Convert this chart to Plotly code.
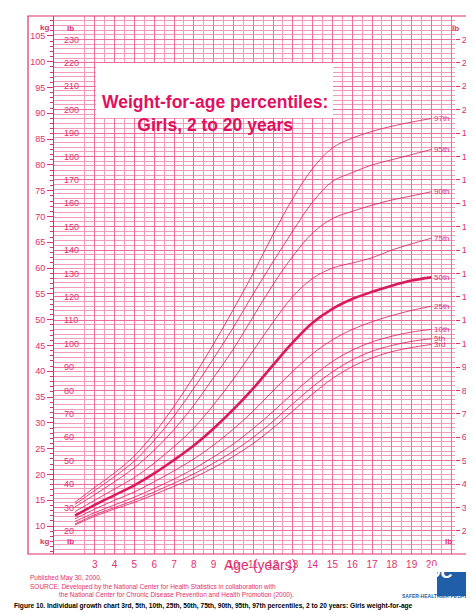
import plotly.graph_objects as go

ages = [2, 3, 4, 5, 6, 7, 8, 9, 10, 11, 12, 13, 14, 15, 16, 17, 18, 19, 20]

# weight in kg
p3 = [10.2, 11.9, 13.3, 14.6, 16.1, 17.7, 19.4, 21.3, 23.5, 26.0, 29.0, 32.3, 35.6, 38.6, 40.9, 42.6, 43.8, 44.6, 45.2]
p5 = [10.4, 12.2, 13.6, 15.0, 16.6, 18.3, 20.1, 22.2, 24.5, 27.2, 30.3, 33.7, 37.0, 39.9, 42.2, 43.9, 45.0, 45.8, 46.3]
p10 = [10.9, 12.6, 14.1, 15.6, 17.3, 19.1, 21.1, 23.4, 25.9, 28.9, 32.2, 35.7, 39.0, 41.9, 44.1, 45.7, 46.8, 47.6, 48.1]
p25 = [11.4, 13.3, 15.0, 16.6, 18.6, 20.7, 23.0, 25.7, 28.8, 32.3, 36.2, 40.0, 43.4, 46.1, 48.1, 49.6, 50.8, 51.8, 52.6]
p50 = [12.0, 14.1, 16.0, 17.9, 20.2, 22.8, 25.6, 28.9, 32.6, 36.7, 41.2, 45.6, 49.4, 52.1, 54.0, 55.4, 56.6, 57.6, 58.2]
p75 = [12.8, 15.0, 17.2, 19.4, 22.2, 25.4, 29.0, 33.5, 38.5, 44.0, 49.5, 54.5, 58.0, 60.0, 61.0, 62.0, 63.5, 64.7, 65.8]
p90 = [13.7, 16.1, 18.6, 21.3, 24.7, 28.7, 33.4, 38.8, 44.3, 50.6, 56.8, 62.3, 66.8, 69.6, 71.0, 72.2, 73.2, 74.0, 74.8]
p95 = [14.2, 16.9, 19.6, 22.6, 26.6, 31.3, 36.7, 42.5, 48.5, 55.0, 61.2, 67.2, 72.8, 76.8, 78.5, 80.0, 81.0, 82.0, 83.0]
p97 = [14.6, 17.5, 20.3, 23.6, 28.0, 33.2, 39.0, 45.3, 52.0, 59.0, 66.5, 73.5, 79.3, 83.3, 85.2, 86.5, 87.5, 88.3, 89.0]

curves = {"3rd": p3, "5th": p5, "10th": p10, "25th": p25, "50th": p50,
          "75th": p75, "90th": p90, "95th": p95, "97th": p97}

KG2LB = 2.20462
LB_MIN, LB_MAX = 10.1, 240.0
PINK = "#e0306e"
GRID = "#ee6f9c"
FONT = "Liberation Sans, Arial, sans-serif"

# plot area in pixels: x 45..447, y 8..546
def px(x):
    return (x - 45) / 402

def py(y):
    return (546 - y) / 538

fig = go.Figure()
for name, kg in curves.items():
    fig.add_trace(go.Scatter(
        x=ages, y=[v * KG2LB for v in kg], mode="lines",
        line=dict(color="#d81b5c", width=2.6 if name == "50th" else 0.8, shape="spline"),
        showlegend=False, hoverinfo="skip"))
    fig.add_annotation(x=20.05, y=kg[-1] * KG2LB, text=name, showarrow=False,
                       xanchor="left", font=dict(size=8, color=PINK, family=FONT))

fig.add_trace(go.Scatter(x=[2], y=[100], yaxis="y2", mode="markers",
                         marker=dict(opacity=0), showlegend=False, hoverinfo="skip"))
fig.add_trace(go.Scatter(x=[2], y=[100], yaxis="y3", mode="markers",
                         marker=dict(opacity=0), showlegend=False, hoverinfo="skip"))

fig.update_layout(
    width=474, height=614,
    margin=dict(l=45, r=27, t=8, b=68, autoexpand=False),
    paper_bgcolor="white", plot_bgcolor="white",
    font=dict(family=FONT, color=PINK),
    xaxis=dict(range=[0.89, 21.19], tickvals=list(range(2, 22)),
               ticktext=[str(a) for a in range(2, 21)] + [""], automargin=False,
               showgrid=True, gridcolor=GRID, gridwidth=1, zeroline=False,
               ticks="", ticklabelstandoff=3, tickfont=dict(size=10, color=PINK),
               minor=dict(tickvals=[a + 0.5 for a in range(2, 21)], showgrid=True,
                          gridcolor="#f39bbb", gridwidth=0.8)),
    yaxis=dict(range=[LB_MIN, LB_MAX], tickvals=list(range(20, 240, 10)),
               ticktext=[str(v) for v in range(20, 240, 10)], automargin=False,
               ticklabelposition="inside", ticklabelstandoff=8,
               tickfont=dict(size=9, color=PINK), ticks="",
               showgrid=True, gridcolor=GRID, gridwidth=1.1, zeroline=False,
               minor=dict(dtick=2, tick0=0, showgrid=True, gridcolor="#f39bbb", gridwidth=0.6)),
    yaxis2=dict(range=[LB_MIN / KG2LB, LB_MAX / KG2LB], overlaying="y", side="left",
                anchor="free", position=0, tickvals=list(range(10, 110, 5)), automargin=False,
                ticks="outside", ticklen=6, tickcolor=PINK, showgrid=False,
                tickfont=dict(size=9, color=PINK), zeroline=False, showline=True,
                linecolor=PINK, linewidth=1,
                minor=dict(dtick=1, ticks="outside", ticklen=3, tickcolor=PINK)),
    yaxis3=dict(range=[LB_MIN, LB_MAX], overlaying="y", side="right", anchor="x",
                tickvals=list(range(20, 240, 10)), ticks="outside", ticklen=4,
                tickcolor=PINK, showgrid=False, zeroline=False, automargin=False,
                tickfont=dict(size=9, color=PINK)),
)

# frame and title box
fig.add_shape(type="rect", xref="paper", yref="paper", x0=px(20), x1=px(467),
              y0=py(546), y1=py(8), line=dict(color=PINK, width=1.2))
fig.add_shape(type="rect", xref="paper", yref="paper", x0=px(88), x1=px(325),
              y0=py(110), y1=py(55), fillcolor="white", line=dict(width=0), layer="above")
fig.add_annotation(xref="paper", yref="paper", x=px(207), y=py(82),
                   text="<b>Weight-for-age percentiles:<br>Girls, 2 to 20 years</b>",
                   showarrow=False, font=dict(size=17.5, color="#e0115f", family=FONT))

for text, x, y in [("kg", 30, 13), ("lb", 57, 14), ("lb", 453, 14),
                   ("kg", 30, 540), ("lb", 57, 540), ("lb", 446, 540)]:
    fig.add_annotation(xref="paper", yref="paper", x=px(x), y=py(y), text="<b>" + text + "</b>",
                       showarrow=False, font=dict(size=8, color=PINK, family=FONT))

fig.add_annotation(xref="paper", yref="paper", x=px(252), y=py(567), text="Age (years)",
                   showarrow=False, font=dict(size=14, color=PINK, family=FONT))

footer = [("Published May 30, 2000.", 20, 576),
          ("SOURCE: Developed by the National Center for Health Statistics in collaboration with", 20, 585),
          ("the National Center for Chronic Disease Prevention and Health Promotion (2000).", 49, 593)]
for text, x, y in footer:
    fig.add_annotation(xref="paper", yref="paper", x=px(x), y=py(y), text=text, xanchor="left",
                       showarrow=False, font=dict(size=6.5, color=PINK, family=FONT))

fig.add_annotation(xref="paper", yref="paper", x=px(4), y=py(604), xanchor="left",
                   text="<b>Figure 10. Individual growth chart 3rd, 5th, 10th, 25th, 50th, 75th, 90th, 95th, 97th percentiles, 2 to 20 years: Girls weight-for-age</b>",
                   showarrow=False, font=dict(size=6.6, color="black", family=FONT))

# CDC logo
fig.add_shape(type="rect", xref="paper", yref="paper", x0=px(429), x1=px(466),
              y0=py(588), y1=py(564), fillcolor="#1f5fa8", line=dict(width=0))
fig.add_annotation(xref="paper", yref="paper", x=px(447.5), y=py(576), text="<b><i>CDC</i></b>",
                   showarrow=False, font=dict(size=17, color="white", family=FONT))
fig.add_annotation(xref="paper", yref="paper", x=px(470), y=py(593), xanchor="right",
                   text="<b>SAFER·HEALTHIER·PEOPLE™</b>", showarrow=False,
                   font=dict(size=5, color="#1f5fa8", family=FONT))

fig.write_html("out.html")
